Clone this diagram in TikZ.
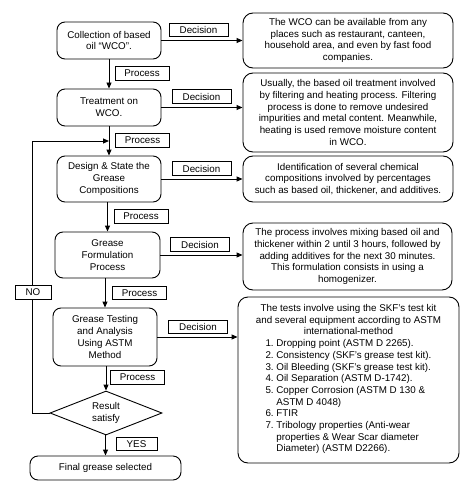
\documentclass[tikz,border=0pt]{standalone}
\usepackage{fontspec}
\setmainfont{Liberation Sans}
\usetikzlibrary{arrows.meta,shapes.geometric}
\begin{document}
\begin{tikzpicture}[x=1pt,y=-1pt,
	every node/.style={font=\fontsize{9.8}{11.7}\selectfont,line width=0.9pt},
	stepbox/.style={draw,rounded corners=8pt,align=center,minimum width=104pt,inner sep=0pt},
	notebox/.style={draw,rounded corners=10pt,align=center,minimum width=210pt,inner sep=0pt},
	tagbox/.style={draw,fill=white,inner sep=0pt,minimum height=13.5pt},
	arrow/.style={-{Triangle[length=6pt,width=5pt]},line width=0.9pt}]
	
	\useasboundingbox (0,0) rectangle (474,492);
	
	% left column
	\node[stepbox,minimum height=37pt] (collect) at (109,40.5) {Collection of based\\oil “WCO”.};
	\node[stepbox,minimum height=37pt] (treat) at (109,107.5) {Treatment on\\WCO.};
	\node[stepbox,minimum height=46pt] (design) at (109,179) {Design \& State the\\Grease\\Compositions};
	\node[stepbox,minimum width=105pt,minimum height=46pt] (formul) at (107.5,255) {Grease\\Formulation\\Process};
	\node[stepbox,minimum height=58pt] (testing) at (105,337) {Grease Testing\\and Analysis\\Using ASTM\\Method};
	\node[draw,diamond,aspect=2.5,minimum width=112pt,minimum height=44pt,inner sep=0pt,align=center] (result) at (106,413) {Result\\satisfy};
	\node[stepbox,minimum width=151pt,minimum height=24pt] (final) at (105.5,468) {Final grease selected};
	
	% right column
	\node[notebox,minimum height=55pt] (wco) at (348,40.5) {The WCO can be available from any\\places such as restaurant, canteen,\\household area, and even by fast food\\companies.};
	\node[notebox,minimum height=79pt] (filter) at (348,112.5) {Usually, the based oil treatment involved\\by filtering and heating process. Filtering\\process is done to remove undesired\\impurities and metal content. Meanwhile,\\heating is used remove moisture content\\in WCO.};
	\node[notebox,minimum height=46pt] (chem) at (348,179) {Identification of several chemical\\compositions involved by percentages\\such as based oil, thickener, and additives.};
	\node[notebox,minimum width=209pt,minimum height=67pt] (mixing) at (347.5,256.5) {The process involves mixing based oil and\\thickener within 2 until 3 hours, followed by\\adding additives for the next 30 minutes.\\This formulation consists in using a\\homogenizer.};
	\node[notebox,minimum width=221pt,minimum height=166pt] (tests) at (348.5,380) {The tests involve using the SKF’s test kit\\and several equipment according to ASTM\\international-method\\
		\begin{tabular}[t]{@{}r@{\ }l@{}}
			1. & Dropping point (ASTM D 2265).\\
			2. & Consistency (SKF’s grease test kit).\\
			3. & Oil Bleeding (SKF’s grease test kit).\\
			4. & Oil Separation (ASTM D-1742).\\
			5. & Copper Corrosion (ASTM D 130 \&\\
			   & ASTM D 4048)\\
			6. & FTIR\\
			7. & Tribology properties (Anti-wear\\
			   & properties \& Wear Scar diameter\\
			   & Diameter) (ASTM D2266).
		\end{tabular}};
	
	% process arrows
	\draw[arrow] (treat.north |- collect.south) -- (treat.north);
	\draw[arrow] (design.north |- treat.south) -- (design.north);
	\draw[arrow] (formul.north |- design.south) -- (formul.north);
	\draw[arrow] (testing.north |- formul.south) -- (testing.north);
	\draw[arrow] (result.north |- testing.south) -- (result.north);
	\draw[arrow] (final.north |- result.south) -- (final.north);
	
	% decision arrows
	\draw[arrow] (collect.east) -- (collect.east -| wco.west);
	\draw[arrow] (treat.east) -- (treat.east -| filter.west);
	\draw[arrow] (design.east) -- (design.east -| chem.west);
	\draw[arrow] (formul.east) -- (formul.east -| mixing.west);
	\draw[arrow] (testing.east) -- (testing.east -| tests.west);
	
	% loop back
	\coordinate (loopback) at (32,141);
	\draw[arrow] (result.west) -| (loopback) -- (loopback -| treat.south);
	
	% labels
	\node[tagbox,minimum width=54pt] (p1) at (142,73.5) {Process};
	\node[tagbox,minimum width=54pt] (p2) at (142.5,140.5) {Process};
	\node[tagbox,minimum width=54pt] (p3) at (141,216.5) {Process};
	\node[tagbox,minimum width=54pt] (p4) at (139.5,293) {Process};
	\node[tagbox,minimum width=54pt] (p5) at (137.5,377.5) {Process};
	\node[tagbox,minimum width=41pt] (yes) at (136.5,444) {YES};
	\node[tagbox,minimum width=59pt] (d1) at (198.5,30) {Decision};
	\node[tagbox,minimum width=59pt] (d2) at (201.5,96.5) {Decision};
	\node[tagbox,minimum width=59pt] (d3) at (201.5,168.5) {Decision};
	\node[tagbox,minimum width=59pt] (d4) at (200,244.5) {Decision};
	\node[tagbox,minimum width=59pt] (d5) at (198,327) {Decision};
	\node[tagbox,minimum width=36pt] (no) at (33,292.5) {NO};
	
\end{tikzpicture}
\end{document}
